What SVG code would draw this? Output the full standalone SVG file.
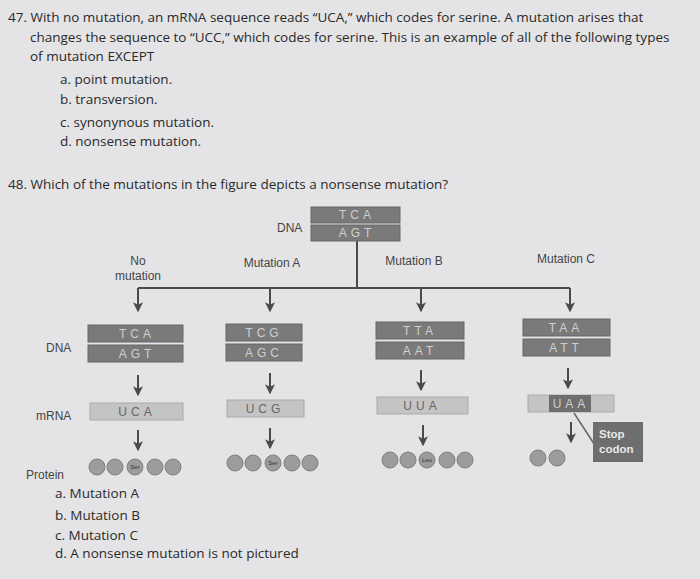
<svg xmlns="http://www.w3.org/2000/svg" width="700" height="579" viewBox="0 0 700 579">
<style>
.q{font-family:"Open Sans","Noto Sans",sans-serif;font-size:13.5px;fill:#2a2a2a}
.f{font-family:"Liberation Sans",Arial,sans-serif;font-size:12px;fill:#444}
.b{font-family:"Liberation Sans",Arial,sans-serif;font-size:12px;fill:#cfcfcf;letter-spacing:4px;text-anchor:middle}
.m{font-family:"Liberation Sans",Arial,sans-serif;font-size:12px;fill:#666;letter-spacing:4px;text-anchor:middle}
.dk{fill:#7a7a7a;stroke:#666;stroke-width:1}
.lt{fill:#c4c4c4;stroke:#aaa;stroke-width:1}
.c{fill:#9c9c9c;stroke:#808080;stroke-width:1}
.ln{stroke:#4a4a4a;stroke-width:2;fill:none}
</style>
<defs><marker id="ah" markerWidth="10" markerHeight="10" refX="7" refY="4" orient="auto" markerUnits="userSpaceOnUse" viewBox="0 0 8 8"><path d="M0,0 L8,4 L0,8 L2,4 Z" fill="#4a4a4a"/></marker></defs>
<rect width="700" height="579" fill="#e4e4e6"/>
<g id="q47">
<text class="q" x="8" y="22">47. With no mutation, an mRNA sequence reads “UCA,” which codes for serine. A mutation arises that</text>
<text class="q" x="30" y="42">changes the sequence to “UCC,” which codes for serine. This is an example of all of the following types</text>
<text class="q" x="30" y="61">of mutation EXCEPT</text>
<text class="q" x="60" y="84">a.  point mutation.</text>
<text class="q" x="60" y="104">b.  transversion.</text>
<text class="q" x="60" y="127">c.  synonynous mutation.</text>
<text class="q" x="60" y="146">d.  nonsense mutation.</text>
</g>
<g id="q48">
<text class="q" x="8" y="189">48. Which of the mutations in the figure depicts a nonsense mutation?</text>
<text class="q" x="55" y="498">a.  Mutation A</text>
<text class="q" x="55" y="520">b.  Mutation B</text>
<text class="q" x="55" y="540">c.  Mutation C</text>
<text class="q" x="55" y="558">d.  A nonsense mutation is not pictured</text>
</g>
<g id="connectors">
<path class="ln" d="M357,240 V288 M138,288 H570"/>
<path class="ln" marker-end="url(#ah)" d="M138,288 V311"/>
<path class="ln" marker-end="url(#ah)" d="M270,288 V311"/>
<path class="ln" marker-end="url(#ah)" d="M421,288 V311"/>
<path class="ln" marker-end="url(#ah)" d="M570,288 V311"/>
<path class="ln" marker-end="url(#ah)" d="M138,375 V395"/>
<path class="ln" marker-end="url(#ah)" d="M270,373 V393"/>
<path class="ln" marker-end="url(#ah)" d="M421,370 V390"/>
<path class="ln" marker-end="url(#ah)" d="M568,368 V388"/>
<path class="ln" marker-end="url(#ah)" d="M138,430 V450"/>
<path class="ln" marker-end="url(#ah)" d="M270,428 V448"/>
<path class="ln" marker-end="url(#ah)" d="M423,425 V445"/>
<path class="ln" marker-end="url(#ah)" d="M571,422 V442"/>
</g>
<g id="top">
<text class="f" x="277" y="232">DNA</text>
<rect class="dk" x="311" y="207" width="89" height="16"/><text class="b" x="357" y="219">TCA</text>
<rect class="dk" x="311" y="225" width="89" height="16"/><text class="b" x="357" y="237">AGT</text>
</g>
<g id="labels">
<text class="f" x="138" y="265" text-anchor="middle">No</text>
<text class="f" x="138" y="280" text-anchor="middle">mutation</text>
<text class="f" x="272" y="267" text-anchor="middle">Mutation A</text>
<text class="f" x="414" y="265" text-anchor="middle">Mutation B</text>
<text class="f" x="566" y="263" text-anchor="middle">Mutation C</text>
<text class="f" x="46" y="352">DNA</text>
<text class="f" x="36" y="420">mRNA</text>
<text class="f" x="26" y="479">Protein</text>
</g>
<g id="none">
<rect class="dk" x="88" y="325" width="95" height="17"/><text class="b" x="137" y="338">TCA</text>
<rect class="dk" x="88" y="345" width="95" height="17"/><text class="b" x="137" y="358">AGT</text>
<rect class="lt" x="90" y="403" width="93" height="17"/><text class="m" x="137" y="416">UCA</text>
<circle class="c" cx="97" cy="467" r="8"/><circle class="c" cx="115" cy="467" r="8"/><circle class="c" cx="135" cy="467" r="8"/><text x="135" y="469" font-family="Liberation Sans" font-size="6" fill="#333" text-anchor="middle">Ser</text><circle class="c" cx="155" cy="467" r="8"/><circle class="c" cx="173" cy="467" r="8"/>
</g>
<g id="mutA">
<rect class="dk" x="226" y="324" width="76" height="17"/><text class="b" x="264" y="337">TCG</text>
<rect class="dk" x="226" y="344" width="76" height="17"/><text class="b" x="264" y="357">AGC</text>
<rect class="lt" x="227" y="400" width="77" height="17"/><text class="m" x="265" y="413">UCG</text>
<circle class="c" cx="235" cy="463" r="8"/><circle class="c" cx="253" cy="463" r="8"/><circle class="c" cx="273" cy="463" r="8"/><text x="273" y="465" font-family="Liberation Sans" font-size="6" fill="#333" text-anchor="middle">Ser</text><circle class="c" cx="292" cy="463" r="8"/><circle class="c" cx="310" cy="463" r="8"/>
</g>
<g id="mutB">
<rect class="dk" x="376" y="322" width="88" height="17"/><text class="b" x="420" y="335">TTA</text>
<rect class="dk" x="376" y="342" width="88" height="17"/><text class="b" x="420" y="355">AAT</text>
<rect class="lt" x="377" y="397" width="91" height="17"/><text class="m" x="422" y="410">UUA</text>
<circle class="c" cx="390" cy="460" r="8"/><circle class="c" cx="408" cy="460" r="8"/><circle class="c" cx="427" cy="460" r="8"/><text x="427" y="462" font-family="Liberation Sans" font-size="6" fill="#333" text-anchor="middle">Leu</text><circle class="c" cx="447" cy="460" r="8"/><circle class="c" cx="465" cy="460" r="8"/>
</g>
<g id="mutC">
<rect class="dk" x="523" y="319" width="87" height="17"/><text class="b" x="566" y="332">TAA</text>
<rect class="dk" x="523" y="339" width="87" height="17"/><text class="b" x="566" y="352">ATT</text>
<rect class="lt" x="528" y="395" width="86" height="17"/>
<rect x="549" y="395" width="42" height="17" fill="#6e6e6e"/><text class="b" x="571" y="408">UAA</text>
<path d="M574,413 L598,450" stroke="#666" stroke-width="1.5"/>
<rect x="593" y="422" width="50" height="40" fill="#6e6e6e"/>
<text x="599" y="438" font-family="Liberation Sans" font-size="11.5" font-weight="bold" fill="#e8e8e8">Stop</text>
<text x="599" y="453" font-family="Liberation Sans" font-size="11.5" font-weight="bold" fill="#e8e8e8">codon</text>
<circle class="c" cx="538" cy="458" r="8"/><circle class="c" cx="557" cy="458" r="8"/>
</g>
</svg>
